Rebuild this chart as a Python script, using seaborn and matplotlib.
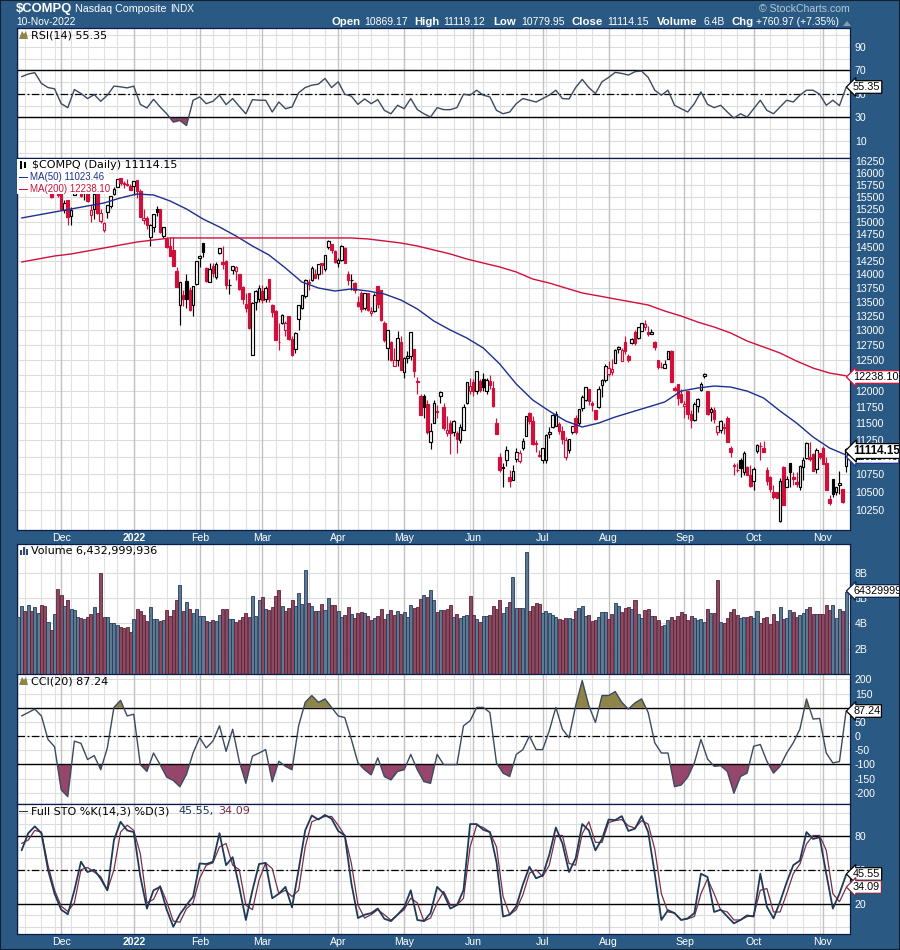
import matplotlib
matplotlib.use('Agg')
import matplotlib.pyplot as plt
from matplotlib.patches import Polygon, Rectangle
import numpy as np
import pandas as pd
import seaborn as sns

holidays = ['2021-11-25', '2021-12-24', '2022-01-17', '2022-02-21', '2022-04-15',
            '2022-05-30', '2022-06-20', '2022-07-04', '2022-09-05']

# one row per month, Nov 11 2021 to Nov 10 2022
opens = [
    15759, 15743, 15893, 15860, 15998, 15964, 16063, 16190, 15825, 15725, 15620, 15690, 15660,
    15800, 15236, 15440, 15115, 15538, 15682, 15700, 15718, 15575, 15130, 15245, 15675, 15020, 14830, 15190, 15320, 15550, 15696, 15896, 15794, 15758, 15734,
    15732, 15853, 15618, 15040, 15080, 14700, 14900, 15251, 15250, 14730, 14660, 14535, 14460, 14050, 13440, 13610, 13871, 13710, 13436, 13812,
    14300, 14583, 14110, 13846, 14150, 13947, 14400, 14217, 14250, 13796, 14070, 14060, 14000, 13760, 13450, 13660, 12587, 13490, 13550,
    13680, 13540, 13900, 13440, 13330, 12800, 13120, 13000, 13250, 12840, 12680, 13200, 13390, 13600, 13860, 13890, 14000, 14000, 14200, 14100, 14500, 14570, 14430,
    14200, 14260, 14480, 14000, 13890, 13830, 13500, 13650, 13380, 13650, 13300, 13340, 13780, 13700, 13130, 12700, 12800, 12400, 12500, 12800,
    12300, 12530, 12560, 12680, 12150, 11920, 11920, 11790, 11210, 11500, 11680, 11920, 11750, 11350, 11500, 11370, 11350, 11250, 11400, 11800, 12000,
    12135, 11990, 12150, 12190, 12000, 12150, 12050, 11500, 11000, 10850, 10950, 10700, 10670, 10970, 10930, 11130, 11310, 11650, 11530, 11200, 11010,
    10950, 10950, 11340, 11440, 11450, 11480, 11380, 11000, 11100, 11370, 11570, 11500, 11730, 11860, 12020, 11810, 11700, 11750, 12090, 12170,
    12260, 12300, 12450, 12680, 12480, 12800, 12570, 12780, 12970, 12860, 12985, 13060, 12960, 12940, 12800, 12500, 12385, 12370, 12520, 12640, 12050, 12100, 11950,
    11760, 11990, 11640, 11540, 11760, 12010, 12230, 12000, 11670, 11700, 11370, 11390, 11440, 11580, 11130, 10880, 10810, 10950, 10780, 10850, 10740,
    10650, 11080, 11160, 11130, 10800, 10700, 10500, 10490, 10100, 10850, 10570, 10900, 10700, 10630, 10570, 10850, 10980, 10990, 11030, 10820, 11050,
    11120, 10900, 10400, 10680, 10500, 10600, 10540, 10869,
]
highs = [
    15762, 15862, 15902, 15999, 16017, 16000, 16133, 16212, 15870, 15853, 15710, 15840, 15780,
    15815, 15435, 15442, 15292, 15705, 15815, 15745, 15730, 15640, 15340, 15600, 15700, 15260, 15000, 15345, 15523, 15700, 15871, 15902, 15822, 15869, 15777,
    15833, 15853, 15655, 15250, 15111, 14950, 15154, 15319, 15259, 14900, 14700, 14700, 14700, 14125, 13860, 13700, 14002, 13765, 13771, 14242,
    14347, 14583, 14136, 14201, 14200, 14216, 14497, 14530, 14258, 13900, 14145, 14150, 14000, 13780, 13650, 13660, 13483, 13700, 13799,
    13800, 13785, 13910, 13460, 13350, 13130, 13280, 13150, 13250, 12900, 12960, 13445, 13620, 13900, 13900, 14140, 14100, 14194, 14200, 14355, 14647, 14570, 14460,
    14300, 14540, 14500, 14050, 14000, 13850, 13600, 13680, 13660, 13660, 13400, 13650, 13780, 13710, 13160, 13010, 12810, 12700, 12990, 12900,
    12540, 12640, 12970, 12680, 12220, 11950, 11950, 11850, 11500, 11850, 11770, 11990, 11810, 11600, 11550, 11550, 11380, 11490, 11790, 12131, 12200,
    12180, 12320, 12180, 12280, 12195, 12250, 12150, 11570, 11050, 10900, 11150, 10800, 10880, 11120, 11090, 11270, 11610, 11660, 11600, 11240, 11100,
    11130, 11330, 11440, 11640, 11680, 11510, 11450, 11290, 11260, 11460, 11620, 11720, 11930, 12060, 12030, 11830, 11700, 12080, 12180, 12430,
    12480, 12520, 12680, 12735, 12700, 12900, 12590, 12860, 13000, 13050, 13130, 13180, 13070, 13020, 12810, 12500, 12470, 12490, 12640, 12670, 12080, 12110, 12020,
    11830, 11990, 11700, 11820, 11880, 12140, 12290, 11980, 11750, 11750, 11450, 11540, 11500, 11600, 11150, 10910, 10910, 10980, 11080, 10870, 10880,
    10850, 11190, 11220, 11230, 10850, 10720, 10600, 10500, 10690, 10870, 10720, 10900, 10780, 10780, 10880, 10990, 11210, 11220, 11050, 11120, 11050,
    11150, 11000, 10450, 10680, 10570, 10790, 10540, 11119,
]
lows = [
    15698, 15709, 15772, 15858, 15919, 15834, 16023, 15852, 15620, 15650, 15484, 15660, 15500,
    15243, 15174, 14932, 14931, 15531, 15672, 15506, 15435, 15400, 15000, 15060, 15150, 14970, 14800, 15070, 15280, 15545, 15697, 15738, 15679, 15729, 15639,
    15547, 15470, 15100, 14957, 14861, 14530, 14804, 15117, 14780, 14680, 14480, 14340, 14154, 13770, 13094, 13414, 13381, 13325, 13236, 13790,
    14130, 14316, 13860, 13846, 13950, 13900, 14381, 14085, 13720, 13630, 14000, 13890, 13700, 13461, 13321, 13025, 12587, 13350, 13500,
    13470, 13500, 13500, 13220, 12831, 12665, 13100, 12900, 12830, 12555, 12620, 13000, 13360, 13560, 13700, 13880, 13920, 13910, 14000, 14060, 14470, 14400, 14200,
    14130, 14240, 14200, 13800, 13700, 13650, 13400, 13320, 13350, 13340, 13250, 13320, 13380, 13150, 12800, 12500, 12480, 12390, 12400, 12335,
    12200, 12450, 12490, 12220, 11950, 11620, 11570, 11340, 11108, 11500, 11580, 11800, 11400, 11300, 11035, 11300, 11050, 11200, 11400, 11790, 11950,
    11910, 11950, 11980, 12000, 11950, 12030, 11750, 11340, 10780, 10565, 10860, 10565, 10660, 10920, 10905, 11100, 11310, 11480, 11170, 11060, 10990,
    10900, 10900, 11270, 11430, 11450, 11330, 11190, 10950, 11050, 11340, 11340, 11470, 11680, 11830, 11780, 11680, 11550, 11730, 11900, 12140,
    12230, 12250, 12440, 12620, 12480, 12590, 12470, 12770, 12750, 12850, 12980, 13010, 12900, 12930, 12660, 12350, 12360, 12360, 12510, 12140, 11990, 11775, 11800,
    11580, 11560, 11430, 11530, 11670, 11990, 12210, 11620, 11530, 11500, 11320, 11350, 11340, 11210, 10990, 10740, 10775, 10710, 10730, 10730, 10570,
    10520, 11050, 10950, 11060, 10600, 10500, 10400, 10410, 10089, 10320, 10570, 10570, 10600, 10560, 10530, 10660, 10970, 10940, 10790, 10760, 10960,
    10890, 10520, 10320, 10430, 10450, 10470, 10340, 10780,
]
closes = [
    15704, 15861, 15854, 15974, 15922, 15994, 16057, 15855, 15775, 15845, 15492, 15783, 15538,
    15254, 15381, 15085, 15225, 15687, 15787, 15517, 15631, 15413, 15238, 15566, 15180, 15170, 14981, 15341, 15522, 15653, 15871, 15782, 15766, 15742, 15645,
    15833, 15623, 15100, 15081, 14936, 14943, 15153, 15188, 14807, 14894, 14507, 14340, 14154, 13769, 13855, 13539, 13542, 13353, 13771, 14240,
    14346, 14418, 13879, 14098, 14016, 14194, 14490, 14186, 13791, 13791, 14140, 14124, 13717, 13548, 13382, 13037, 13474, 13695, 13751,
    13532, 13752, 13538, 13313, 12831, 12796, 13256, 13130, 12844, 12581, 12949, 13437, 13615, 13894, 13838, 14109, 13923, 14192, 14169, 14355, 14620, 14442, 14221,
    14262, 14533, 14204, 13889, 13897, 13711, 13412, 13372, 13644, 13351, 13332, 13620, 13453, 13175, 12839, 13005, 12491, 12489, 12872, 12335,
    12536, 12564, 12965, 12318, 12145, 11623, 11738, 11364, 11371, 11805, 11663, 11985, 11418, 11388, 11355, 11535, 11264, 11435, 11741, 12131, 12081,
    11994, 12317, 12013, 12061, 12175, 12086, 11754, 11340, 10809, 10828, 11099, 10646, 10798, 11069, 11053, 11232, 11608, 11525, 11182, 11178, 11029,
    11128, 11322, 11362, 11621, 11635, 11373, 11265, 11248, 11251, 11452, 11360, 11713, 11898, 12060, 11834, 11783, 11563, 12032, 12163, 12391,
    12369, 12349, 12668, 12721, 12658, 12644, 12494, 12855, 12780, 13047, 13128, 13103, 12938, 12965, 12705, 12382, 12381, 12432, 12639, 12142, 12018, 11883, 11816,
    11785, 11631, 11545, 11792, 11862, 12112, 12266, 11634, 11720, 11552, 11448, 11535, 11425, 11220, 11067, 10868, 10803, 10830, 11052, 10738, 10576,
    10815, 11176, 11149, 11073, 10652, 10542, 10426, 10417, 10649, 10321, 10676, 10772, 10680, 10615, 10860, 10953, 11199, 10971, 10793, 11102, 10988,
    10891, 10525, 10343, 10475, 10565, 10616, 10353, 11114.15,
]

# moving averages read every fifth bar, newest first
ma50 = [11023, 11125, 11288, 11498, 11682, 11885, 11994, 12058, 12074, 12042,
        11994, 11822, 11744, 11667, 11590, 11498, 11438, 11529, 11682, 11853,
        12106, 12430, 12696, 12865, 13001, 13157, 13368, 13527, 13635, 13689,
        13725, 13689, 13743, 13852, 14111, 14356, 14527, 14721, 14897, 15055,
        15255, 15418, 15540, 15560, 15480, 15377, 15316, 15255, 15195, 15135, 15075]
ma200 = [12238, 12283, 12364, 12479, 12612, 12713, 12814, 12950, 13053, 13139,
         13244, 13332, 13438, 13492, 13545, 13600, 13653, 13743, 13834, 13907,
         14037, 14130, 14204, 14280, 14375, 14451, 14527, 14585, 14624, 14663,
         14682, 14682, 14682, 14682, 14682, 14682, 14682, 14682, 14682, 14682, 14682, 14682,
         14643, 14604, 14547, 14489, 14432, 14375, 14337, 14280, 14223]

# volume in billions
volume = [
    4.5, 5.4, 4.95, 5.45, 5.0, 5.3, 4.8, 5.45, 5.4, 4.1, 3.5, 4.75, 6.7, 6.2, 5.4, 5.85, 5.15, 5.05, 4.5, 4.4,
    4.35, 4.5, 4.75, 5.3, 4.8, 8.0, 4.5, 4.5, 4.05, 4.0, 3.9, 3.7, 3.65, 3.7, 3.3, 4.35, 5.15, 5.0, 4.65, 4.2,
    5.3, 4.35, 4.3, 4.2, 4.25, 5.05, 4.6, 5.05, 5.85, 7.0, 5.0, 5.7, 5.15, 4.8, 5.15, 4.6, 4.6, 4.2, 4.1, 4.25,
    4.2, 4.65, 5.15, 5.15, 4.35, 4.35, 4.1, 4.25, 4.5, 4.8, 4.5, 6.15, 4.6, 5.85, 6.1, 5.15, 5.05, 5.3, 6.15, 6.65,
    5.4, 5.0, 5.2, 5.85, 5.4, 6.4, 5.5, 8.2, 5.6, 5.4, 5.0, 5.0, 5.5, 5.05, 6.0, 5.45, 5.45, 5.0, 4.5, 4.65,
    5.3, 4.75, 4.4, 4.8, 4.9, 4.8, 4.6, 4.25, 4.4, 4.6, 5.15, 4.35, 4.75, 5.05, 4.65, 5.0, 4.75, 4.9, 4.5, 5.45,
    5.2, 5.3, 5.9, 6.2, 6.05, 6.65, 5.85, 4.9, 5.05, 5.05, 5.15, 5.45, 4.5, 4.75, 4.4, 4.6, 4.65, 6.15, 4.65, 4.35,
    4.1, 4.6, 4.6, 4.65, 5.4, 5.15, 5.85, 4.8, 5.3, 5.7, 7.65, 5.2, 5.2, 5.2, 9.65, 5.0, 5.4, 5.6, 5.5, 4.8,
    5.0, 4.8, 4.65, 4.5, 4.35, 4.25, 4.4, 4.4, 4.35, 5.0, 5.2, 5.4, 4.6, 4.65, 4.2, 4.25, 4.5, 4.85, 4.9, 4.35,
    4.75, 5.6, 5.4, 4.9, 5.2, 5.25, 5.15, 5.8, 4.75, 4.4, 5.05, 5.15, 4.6, 4.6, 4.25, 3.8, 3.85, 4.25, 4.5, 4.25,
    4.6, 4.9, 4.75, 4.25, 4.6, 4.4, 4.25, 4.35, 4.1, 5.15, 4.8, 4.8, 7.4, 4.1, 4.05, 4.4, 4.9, 5.15, 4.65, 4.4,
    4.5, 4.5, 4.6, 4.4, 5.0, 4.05, 4.4, 4.5, 3.95, 4.75, 4.2, 5.3, 4.35, 4.4, 5.05, 4.9, 4.5, 4.65, 4.8, 5.15,
    5.25, 4.75, 4.75, 4.75, 4.75, 5.45, 5.05, 5.45, 4.4, 5.15, 5.0, 6.43,
]

# indicators read every second bar
rsi = [
    64.6, 66.9, 68, 58.9, 55.4, 54.3, 41.7, 38.3, 53.7, 50.3, 46, 49.4, 43.7, 48.9, 56.6, 56, 55.1, 56.6, 41.1, 38,
    45.4, 38.9, 33.1, 26, 27.4, 23.1, 44.6, 47.4, 41.7, 43.7, 48.9, 40.9, 46, 39.4, 33.1, 45.1, 44.6, 44.6, 34.6, 43.1,
    37.4, 38.9,
    50.9, 55.4, 57.4, 58.3, 63.1, 55.4, 60.3, 49.7, 48, 41.1, 45.7, 41.7, 45.1, 36, 33.1, 40.3, 37.4, 46, 36.6, 33.1,
    30.3, 38.3, 36.6, 36.6, 38.3, 49.7, 48.9, 53.1, 48.9, 47.4, 36, 33.1, 34.6, 41.7, 46, 44.6, 43.1, 46, 48.9, 53.1,
    46, 45.7, 55.4, 62.3, 55.4, 50.3,
    60.3, 64, 68.3, 67.4, 66, 68.9, 69.4, 64, 53.1, 48.9, 53.1, 40.3, 37.4, 34.6, 41.7, 51.7, 41.1, 38.3, 40.3, 34.6,
    29.4, 33.1, 30.3, 37.4, 44.6, 36, 33.1, 38.9, 44.6, 43.1, 48.9, 53.1, 53.1, 49.7, 40.3, 44.6, 40, 55.35,
]
cci = [
    71, 83, 95, 71, -12, -38, -190, -214, -18, -26, -83, -69, -119, -42, 101, 126, 71, 77, -101, -125,
    -60, -101, -145, -157, -179, -135, -60, -6, -42, -18, 36, -54, 24, -89, -167, -71, -60, -48, -161, -89,
    -107, -119,
    36, 119, 143, 119, 131, 101, 71, 65, -12, -95, -119, -137, -77, -143, -155, -125, -119, -65, -119, -161,
    -167, -65, -101, -101, -101, 36, 54, 101, 101, 83, -95, -131, -143, -65, -48, 0, -48, -48, 18, 101,
    24, -6, 107, 196, 107, 48,
    143, 143, 157, 119, 95, 117, 131, 83, -24, -60, -60, -179, -173, -145, -95, -12, -81, -107, -105, -125,
    -202, -143, -131, -36, -30, -89, -131, -107, -60, -24, 24, 131, 60, 62, -60, -95, -90, 87.24,
]
sto_k = [
    67, 82, 88, 82, 50, 29, 15, 11, 32, 57, 48, 50, 42, 32, 76, 92, 84.5, 83, 44, 16,
    32, 35, 15, 0, 11, 19, 26.5, 55.5, 55, 57, 82, 54, 61, 35, 6, 32, 55, 56, 25, 29,
    35, 17,
    50, 84.5, 97.5, 94, 98, 94.6, 84, 80, 38, 7.7, 10.6, 12, 16, 7, 5, 10.6, 17, 32, 6, 5,
    12, 35, 29, 16, 19, 32, 90, 90, 85, 83, 57, 9, 10.6, 18, 37, 52.6, 42.5, 45, 63, 87,
    73, 48, 60, 90, 84.5, 67,
    77, 94, 93.5, 97, 84, 86, 97, 83, 46.5, 6, 14.6, 12, 6, 7.4, 12, 46.5, 43.6, 13, 15, 9,
    3, 6, 10, 9, 46.5, 17.5, 7.4, 22, 39, 54, 58, 83, 77, 78.4, 46.5, 16, 29, 45.55,
]
sto_d = [
    73, 76, 84.5, 83, 54, 32, 18, 13.5, 21, 50, 52, 48, 44, 32, 50, 83, 89, 84.5, 64, 21,
    24, 36, 22, 5, 4, 16, 21, 42.5, 54, 56, 70, 73, 54, 50, 19, 15, 41, 56, 51, 29,
    32, 26.5,
    32, 70, 92, 94.6, 96.7, 96.7, 89, 80, 55.5, 19, 7.7, 10.6, 15, 10.6, 5.7, 10.6, 15, 25, 21, 5,
    7.7, 21, 31, 19, 19, 25, 70, 89, 87, 83, 70, 26.5, 10.6, 15, 28, 47, 50, 44, 54, 80,
    80, 55.5, 54, 81.6, 92, 74,
    74, 91.4, 93, 94, 88.5, 86.5, 93, 90, 68, 29, 13, 12, 6, 7, 9, 29, 42, 29, 14.6, 13,
    6, 6, 9, 10, 32, 33.5, 13, 13, 29, 46.5, 55, 72.6, 80, 80, 67, 29, 22, 34.09,
]

BG = '#2a5a84'
NAVY = '#0a1c48'
RED = '#d0103a'
W, H = 900, 950

sns.set_style('white')
plt.rcParams['font.family'] = ['Liberation Sans', 'DejaVu Sans']

fig = plt.figure(figsize=(W / 100, H / 100), dpi=100, facecolor=BG)

dates = pd.bdate_range('2021-11-11', '2022-11-10').difference(pd.to_datetime(holidays))
n = len(dates)
idx = np.arange(n)
o, hi, lo, c = map(np.array, (opens, highs, lows, closes))
prev = np.r_[c[0] - 1, c[:-1]]
is_up = c >= prev
hollow = c > o

months = pd.Series(idx, index=dates).groupby([dates.year, dates.month]).first().values[1:]
weeks = pd.Series(idx, index=dates).groupby(dates.strftime('%G-%V')).first().values
month_names = [dates[i].strftime('%b') for i in months]
month_names = ['2022' if s == 'Jan' else s for s in month_names]


def add_panel(top, bottom, ylim, ticks, grid=None, labels=None, log=False):
    ax = fig.add_axes([16.5 / W, 1 - bottom / H, 833.5 / W, (bottom - top) / H])
    ax.set_facecolor('white')
    if log:
        ax.set_yscale('log')
    ax.set_xlim(-0.55, 252.2)
    ax.set_ylim(*ylim)
    ax.minorticks_off()
    ax.set_yticks(ticks)
    ax.set_yticklabels(labels if labels else [str(t) for t in ticks])
    ax.yaxis.set_minor_locator(plt.NullLocator())
    ax.yaxis.tick_right()
    ax.tick_params(axis='y', length=0, pad=3.5, labelsize=7.6, labelcolor='white')
    ax.set_xticks([])
    for s in ax.spines.values():
        s.set_color(NAVY)
        s.set_linewidth(0.9)
    for g in (grid if grid is not None else ticks):
        ax.axhline(g, color='#dcdcdc', lw=0.8, zorder=0)
    for x in weeks:
        ax.axvline(x, color='#e0e0e0', lw=0.8, zorder=0)
    for x in months:
        ax.axvline(x, color='#c2c2c2', lw=1.0, zorder=0)
    return ax


def px_text(x, y, s, **kw):
    kw.setdefault('color', 'white')
    kw.setdefault('va', 'center')
    return fig.text(x / W, 1 - y / H, s, **kw)


def tag(y, s, edge, **kw):
    kw.setdefault('fontsize', 7.8)
    px_text(853, y, s, color='black',
            bbox=dict(boxstyle='larrow,pad=0.12', fc='white', ec=edge, lw=0.9), zorder=6, **kw)


def px_poly(pts, color):
    fig.add_artist(Polygon([(x / W, 1 - y / H) for x, y in pts], closed=True, fc=color, ec='none',
                           transform=fig.transFigure, zorder=5))


def osc_lines(ax, upper, mid, lower):
    ax.axhline(upper, color='black', lw=1.0, zorder=3)
    ax.axhline(lower, color='black', lw=1.0, zorder=3)
    ax.axhline(mid, color='black', lw=0.9, ls=(0, (6, 2, 1.5, 2)), zorder=3)


LINE = '#3b4a60'
OLIVE = '#8f8548'
PLUM = '#96466a'
step2 = np.arange(1, n, 2)


def osc_fill(ax, vals, upper, lower):
    vals = np.array(vals, dtype=float)
    ax.fill_between(step2, vals, upper, where=vals >= upper, interpolate=True, color=OLIVE, lw=0, zorder=2)
    ax.fill_between(step2, vals, lower, where=vals <= lower, interpolate=True, color=PLUM, lw=0, zorder=2)


# RSI panel
ax_rsi = add_panel(28, 158, (-4.5, 106), [10, 30, 50, 70, 90], grid=np.arange(0, 101, 10))
osc_fill(ax_rsi, rsi, 70, 30)
osc_lines(ax_rsi, 70, 50, 30)
sns.lineplot(x=step2, y=rsi, ax=ax_rsi, color=LINE, lw=1.0, errorbar=None, legend=False, zorder=4)

# price panel, the 11000 and 12250 labels sit behind the value tags
ticks_px = list(range(10250, 16251, 250))
ax_px = add_panel(158, 530, (9983, 16318), ticks_px, log=True,
                  labels=['' if t in (11000, 12250) else str(t) for t in ticks_px])
ax_px.yaxis.set_minor_formatter(plt.NullFormatter())
ax_px.vlines(idx, lo, hi, colors=np.where(is_up, 'black', RED), lw=0.85, zorder=3)
ax_px.bar(idx, np.abs(c - o), bottom=np.minimum(o, c), width=0.78,
          color=[('white' if h else ('black' if u else RED)) for h, u in zip(hollow, is_up)],
          edgecolor=['black' if u else RED for u in is_up], linewidth=0.85, zorder=4)
step5 = np.arange(n - 1, 0, -5)
sns.lineplot(x=step5, y=ma50, ax=ax_px, color='#1c2f90', lw=1.0, errorbar=None, legend=False, zorder=5)
sns.lineplot(x=step5, y=ma200, ax=ax_px, color=RED, lw=1.0, errorbar=None, legend=False, zorder=5)
ax_px.set_xticks(months)
ax_px.set_xticklabels(month_names)
ax_px.tick_params(axis='x', length=0, pad=2.5, labelsize=7.6, labelcolor='white')

# volume panel
ax_vol = add_panel(544, 674, (0, 10.25), [2, 4, 6, 8], labels=['2B', '4B', '6B', '8B'])
ax_vol.bar(idx, volume, width=0.92,
           color=['#5f7a90' if u else '#884b60' for u in is_up],
           edgecolor=['#1f3c60' if u else '#61203a' for u in is_up], linewidth=0.6, zorder=3)

# CCI panel
cci_ticks = [-200, -150, -100, -50, 0, 50, 100, 150, 200]
ax_cci = add_panel(674, 804, (-240, 219), cci_ticks)
osc_fill(ax_cci, cci, 100, -100)
osc_lines(ax_cci, 100, 0, -100)
sns.lineplot(x=step2, y=cci, ax=ax_cci, color=LINE, lw=1.0, errorbar=None, legend=False, zorder=4)

# stochastics panel
ax_sto = add_panel(804, 934, (-6.3, 107.6), [20, 50, 80], grid=np.arange(0, 101, 10))
osc_lines(ax_sto, 80, 50, 20)
sns.lineplot(x=step2, y=sto_d, ax=ax_sto, color='#7a2e45', lw=0.9, errorbar=None, legend=False, zorder=4)
sns.lineplot(x=step2, y=sto_k, ax=ax_sto, color='#1e3a58', lw=1.3, errorbar=None, legend=False, zorder=5)
ax_sto.set_xticks(months)
ax_sto.set_xticklabels(month_names)
ax_sto.tick_params(axis='x', length=0, pad=2.5, labelsize=7.6, labelcolor='white')
for ax in (ax_px, ax_sto):
    for t in ax.get_xticklabels():
        if t.get_text() == '2022':
            t.set_fontweight('bold')

# header
px_text(16, 9, '$COMPQ', fontsize=9.4, fontweight='bold')
px_text(75, 9, 'Nasdaq Composite', fontsize=7.7)
px_text(170, 9, 'INDX', fontsize=7.2)
px_text(16, 22, '10-Nov-2022', fontsize=7.4)
header = [(331, 'Open', True), (364, '10869.17', False), (414, 'High', True), (443, '11119.12', False),
          (493, 'Low', True), (521, '10779.95', False), (571, 'Close', True), (607, '11114.15', False),
          (657, 'Volume', True), (703, '6.4B', False), (731, 'Chg', True), (756, '+760.97 (+7.35%)', False)]
for x, s, bold in header:
    px_text(x, 22, s, fontsize=8.2 if bold else 7.5, fontweight='bold' if bold else 'normal')
px_poly([(843, 26), (851, 26), (847, 21)], '#8d9aa8')
px_text(850, 9, '\u00a9 StockCharts.com', fontsize=7.6, ha='right', color='#b8c6d4')

# legends inside the panels
fig.add_artist(Rectangle((17 / W, 1 - 194 / H), 92 / W, 35 / H, fc='white', ec='none',
                         transform=fig.transFigure, zorder=2))
LEG = dict(fontsize=8.0, family='DejaVu Sans')
MA_LEG = dict(fontsize=7.0)
px_poly([(19, 39), (22, 31), (24, 34), (26, 31), (28, 39)], OLIVE)
px_text(31, 35, 'RSI(14) 55.35', color='black', **LEG)
px_text(32, 165, '$COMPQ (Daily) 11114.15', color='black', **LEG)
px_poly([(20, 161), (22, 161), (22, 169), (20, 169)], 'black')
px_poly([(24, 162), (26, 162), (26, 168), (24, 168)], 'black')
px_poly([(19, 176.5), (28, 176.5), (28, 178), (19, 178)], '#1c2f90')
px_text(30, 177, 'MA(50) 11023.46', color='#1c2f90', **MA_LEG)
px_poly([(19, 188.5), (28, 188.5), (28, 190), (19, 190)], RED)
px_text(30, 189, 'MA(200) 12238.10', color=RED, **MA_LEG)
for x0, h0 in [(19.5, 5), (22.5, 8), (25.5, 6)]:
    px_poly([(x0, 555), (x0 + 2, 555), (x0 + 2, 555 - h0), (x0, 555 - h0)], '#2e4a6c')
px_text(31, 551, 'Volume 6,432,999,936', color='black', **LEG)
px_poly([(19, 685), (22, 677), (24, 680), (26, 677), (28, 685)], OLIVE)
px_text(31, 682, 'CCI(20) 87.24', color='black', **LEG)
px_poly([(19, 810.5), (28, 810.5), (28, 812), (19, 812)], '#1e3a58')
px_text(31, 811, 'Full STO %K(14,3) %D(3)', color='black', **LEG)
px_text(178, 811, '45.55,', color='#1e3a58', **LEG)
px_text(218, 811, '34.09', color='#7a2e45', **LEG)

# value tags on the right
tag(87, '55.35', 'black')
tag(377, '12238.10', RED)
tag(457, '11023.46', '#1c2f90')
tag(451, '11114.15', 'black', fontweight='bold', fontsize=8.4)
tag(591, '64329999', NAVY)
tag(711, '87.24', 'black')
tag(874, '45.55', 'black')
tag(887, '34.09', '#7a2e45')

fig.add_artist(Rectangle((0, 0), 1, 1, fc='none', ec='#10202e', lw=1.5,
                         transform=fig.transFigure, zorder=10))
fig.savefig('out.png', dpi=100, facecolor=BG)
